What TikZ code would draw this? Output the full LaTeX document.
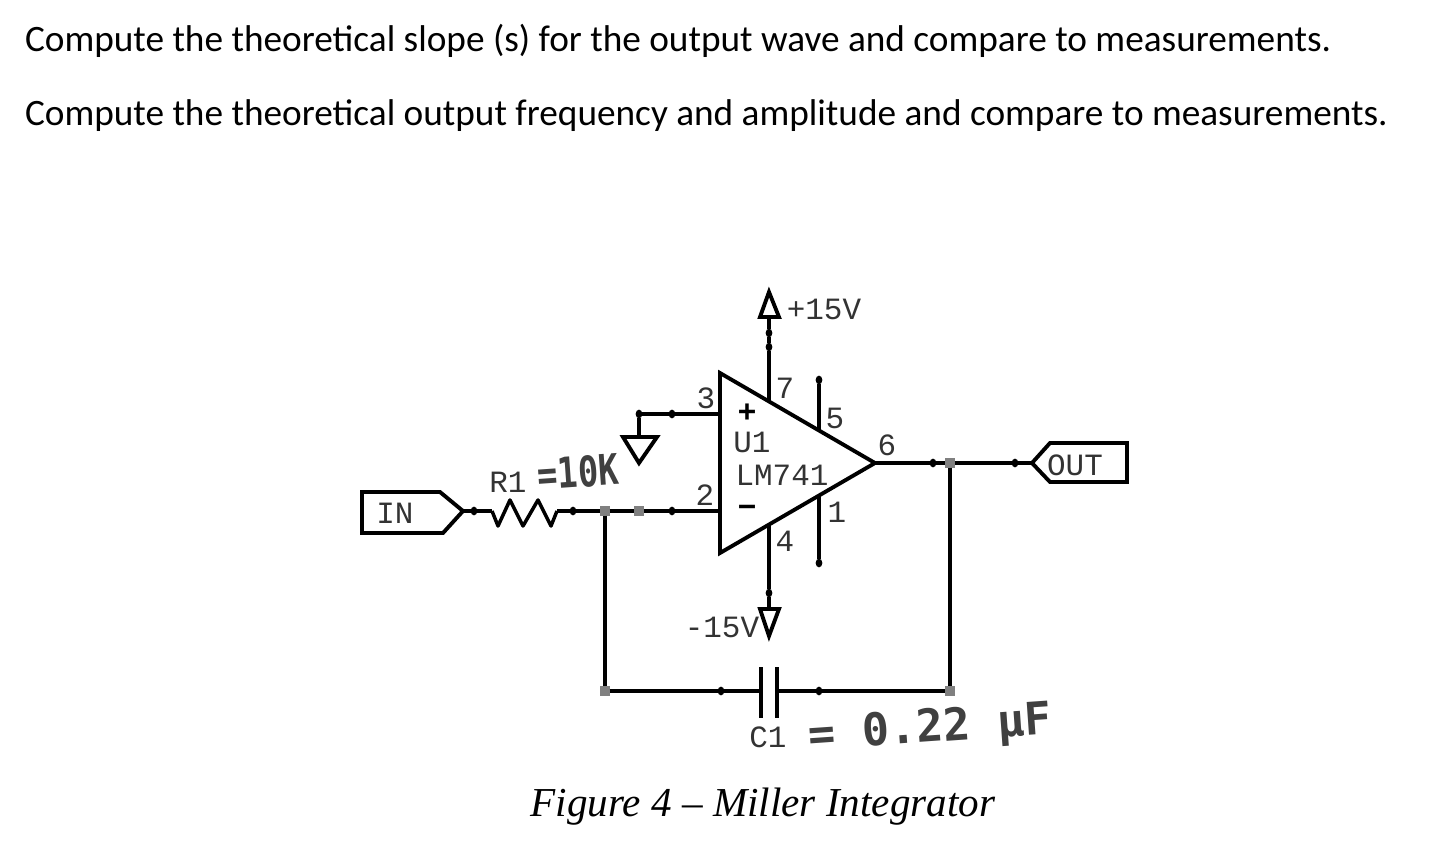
\documentclass[tikz,border=0pt]{standalone}
\usepackage{fontspec}
\usetikzlibrary{shapes.geometric}
\setmainfont{Carlito}
\newfontfamily\cadfont{Liberation Mono}
\newfontfamily\capfont{Liberation Serif}
\newfontfamily\handfont{DejaVu Sans Mono}
\newfontfamily\handnarrow[FakeStretch=0.8]{DejaVu Sans Mono}
\begin{document}
\begin{tikzpicture}[x=0.01cm,y=-0.01cm]
\tikzset{ inner sep=0pt, outer sep=0pt,
  wire/.style={line width=1pt, black},
  box/.style={line width=1.1pt, black, line join=miter},
  dot/.style={fill=black, ellipse, minimum width=1.9pt, minimum height=2.5pt, draw=none},
  jct/.style={fill=gray, rectangle, minimum size=2.6pt, draw=none},
  cad/.style={font=\cadfont\fontsize{8.8}{10}\selectfont, text=black!80},
  sign/.style={font=\cadfont\bfseries\fontsize{9}{9}\selectfont},
  hand/.style={font=\handfont\bfseries\fontsize{12.8}{14}\selectfont, text=black!75},
  head/.style={font=\fontsize{10.6}{12}\selectfont, anchor=base west},
}
\useasboundingbox (0,0) rectangle (1429,854);
\fill[white] (0,0) rectangle (1429,854);

%\draw [lightgray, dashed](0,0) grid (1429,854);

\node [head] (HA) at (25,51) {Compute the theoretical slope (s) for the output wave and compare to measurements.};
\node [head] (HB) at (25,125) {Compute the theoretical output frequency and amplitude and compare to measurements.};

% op amp corners and pins
\coordinate (TL) at (720,373);
\coordinate (BL) at (720,553);
\coordinate (TP) at (875,463);
\coordinate (P3) at (720,414);
\coordinate (P2) at (720,511);
\coordinate (P7) at (769,401.5);
\coordinate (P5) at (819,430.5);
\coordinate (P1) at (819,495.5);
\coordinate (P4) at (769,524.5);

\coordinate (INT) at (463,511);
\coordinate (OUTT) at (1032,463);

\coordinate (RA) at (492,511);
\coordinate (RB) at (557,511);
\coordinate (CA) at (761,691);
\coordinate (CB) at (777,691);

\coordinate (VP) at (769,317);
\coordinate (VN) at (769,609);
\coordinate (GN) at (639,437);

\node [dot] (D1) at (474,511) { };
\node [dot] (D2) at (573,511) { };
\node [jct] (J1) at (605,511) { };
\node [jct] (J2) at (639,511) { };
\node [dot] (D3) at (672,511) { };

\node [dot] (D4) at (639,414) { };
\node [dot] (D5) at (672,414) { };

\node [dot] (D6) at (769,333) { };
\node [dot] (D7) at (769,347) { };
\node [dot] (D8) at (819,380) { };
\node [dot] (D9) at (819,563) { };
\node [dot] (D10) at (769,593) { };

\node [dot] (D11) at (933,463) { };
\node [jct] (J3) at (950,463) { };
\node [dot] (D12) at (1015,463) { };

\node [jct] (J4) at (605,691) { };
\node [jct] (J5) at (950,691) { };
\node [dot] (D13) at (721,691) { };
\node [dot] (D14) at (819,691) { };

\draw [wire] (INT) -- (D1) -- (RA);
\draw [wire] (RB) -- (D2) -- (J1) -- (J2) -- (D3) -- (P2);
\draw [wire] (D4) -- (D5) -- (P3);
\draw [wire] (D4) -- (GN);
\draw [wire] (P7) -- (D7) -- (D6) -- (VP);
\draw [wire] (P5) -- (D8);
\draw [wire] (P1) -- (D9);
\draw [wire] (P4) -- (D10) -- (VN);
\draw [wire] (TP) -- (D11) -- (J3) -- (D12) -- (OUTT);
\draw [wire] (J1) -- (J4);
\draw [wire] (J3) -- (J5);
\draw [wire] (J4) -- (D13) -- (CA);
\draw [wire] (CB) -- (D14) -- (J5);

\draw [box] (TL) -- (TP) -- (BL) -- cycle;

% resistor
\draw [wire, line join=round] (RA) -- (498,526) -- (510,500) -- (523,526) -- (538,500) -- (551,526) -- (RB);

% capacitor
\draw [box] (761,667) -- (761,718);
\draw [box] (777,667) -- (777,718);

% ground and supplies
\draw [box] (GN) -- (623,437) -- (639,463) -- (657,437) -- cycle;
\draw [box] (VP) -- (760,317) -- (769,292) -- (779,317) -- cycle;
\draw [box] (VN) -- (760,609) -- (769,636) -- (779,609) -- cycle;

% ports
\draw [box] (INT) -- (443,533) -- (362,533) -- (362,492) -- (440,492) -- cycle;
\draw [box] (OUTT) -- (1050,443) -- (1127,443) -- (1127,482) -- (1050,482) -- cycle;

\node [cad] (IN) at (395,513) {IN};
\node [cad] (OUT) at (1075,465) {OUT};
\node [cad] (R1) at (508,482) {R1};
\node [cad] (C1) at (768,737) {C1};
\node [cad] (U1) at (752,442) {U1};
\node [cad] (LM) at (782,475) {LM741};
\node [cad] (VPL) at (824,309) {+15V};
\node [cad] (VNL) at (722,627) {-15V};

\node [cad] (N3) at (706,398) {3};
\node [cad] (N2) at (705,495) {2};
\node [cad] (N7) at (785,388) {7};
\node [cad] (N5) at (835,418) {5};
\node [cad] (N6) at (887,445) {6};
\node [cad] (N1) at (837,512) {1};
\node [cad] (N4) at (785,541) {4};

\node [sign] (PL) at (747,413) {+};
\node [sign] (MN) at (747,511) {−};

\node [hand, font=\handnarrow\bfseries\fontsize{12}{14}\selectfont, rotate=4] (RV) at (578,472) {=10K};
\node [hand, rotate=4] (CV) at (930,730) {= 0.22 µF};

\node [font=\capfont\itshape\fontsize{11.7}{13}\selectfont] (CAP) at (763,807) {Figure 4 – Miller Integrator};

\end{tikzpicture}
\end{document}
